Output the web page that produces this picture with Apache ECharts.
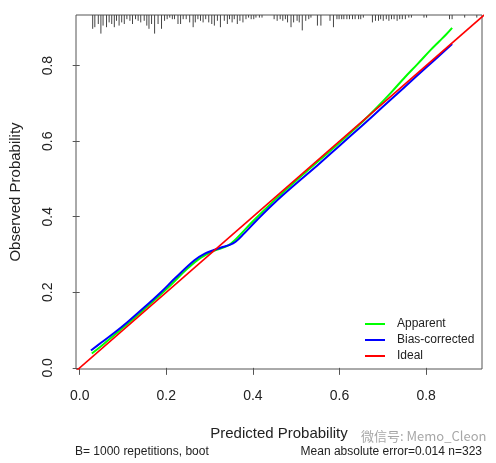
<!DOCTYPE html>
<html><head><meta charset="utf-8">
<script src="https://cdn.jsdelivr.net/npm/echarts@6/dist/echarts.min.js"></script>
<style>html,body{margin:0;padding:0;background:#fff}#c{width:496px;height:463px}</style>
</head><body><div id="c"></div>
<script>
const xTicks = [0, 0.2, 0.4, 0.6, 0.8];
const yTicks = [0, 0.2, 0.4, 0.6, 0.8];
const seriesNames = ['Apparent', 'Bias-corrected', 'Ideal'];

const apparentX = [0.028,0.05,0.1,0.15,0.2,0.25,0.28,0.31,0.34,0.36,0.4,0.45,0.5,0.55,0.6,0.65,0.68,0.72,0.75,0.78,0.81,0.83,0.845,0.86];
const apparentY = [0.038,0.058,0.106,0.156,0.208,0.264,0.292,0.310,0.322,0.340,0.388,0.444,0.496,0.546,0.596,0.648,0.682,0.730,0.768,0.804,0.841,0.864,0.881,0.900];

const biasX = [0.026,0.05,0.08,0.11,0.15,0.19,0.22,0.265,0.29,0.31,0.33,0.345,0.36,0.38,0.41,0.45,0.5,0.55,0.6,0.65,0.7,0.75,0.8,0.86];
const biasY = [0.046,0.067,0.093,0.121,0.161,0.203,0.237,0.285,0.303,0.312,0.320,0.325,0.334,0.356,0.392,0.437,0.488,0.537,0.588,0.639,0.691,0.743,0.795,0.857];

const idealX = [-0.1, 1.1];
const idealY = [-0.1, 1.1];

const rugX = [0.030,0.035,0.043,0.049,0.054,0.062,0.068,0.074,0.080,0.085,
0.091,0.097,0.103,0.109,0.116,0.122,0.129,0.135,0.141,0.149,
0.155,0.160,0.166,0.173,0.181,0.189,0.196,0.202,0.208,0.214,
0.219,0.227,0.233,0.239,0.246,0.254,0.262,0.267,0.273,0.279,
0.285,0.291,0.298,0.305,0.311,0.318,0.325,0.334,0.341,0.346,
0.352,0.357,0.364,0.370,0.377,0.384,0.390,0.396,0.402,0.407,
0.415,0.421,0.449,0.456,0.463,0.469,0.475,0.480,0.488,0.494,
0.502,0.507,0.514,0.522,0.529,0.534,0.549,0.557,0.578,0.586,
0.594,0.599,0.605,0.610,0.617,0.623,0.630,0.636,0.644,0.649,
0.655,0.676,0.683,0.690,0.695,0.701,0.708,0.714,0.720,0.726,
0.733,0.739,0.745,0.752,0.760,0.766,0.795,0.801,0.854,0.860,
0.889,0.917];
const rugN = [8,7,5,11,6,7,4,5,7,3,
6,4,5,2,3,5,2,3,4,3,
6,8,5,11,5,8,3,2,1,2,
2,5,5,2,2,4,7,4,2,3,
4,2,4,5,6,3,7,3,5,2,
4,2,5,3,4,2,1,2,2,1,
1,1,2,3,2,3,2,4,7,4,
3,4,9,3,2,1,6,6,3,7,
2,2,2,2,2,2,2,2,2,2,
1,4,3,3,2,3,2,3,2,2,
3,2,2,2,1,1,1,1,2,2,
1,1];

const footLeft = 'B= 1000 repetitions, boot';
const footRight = 'Mean absolute error=0.014 n=323';
const watermark = '微信号: Memo_Cleon';

const X_MIN = -0.0085, X_MAX = 0.929, Y_MIN = -0.003, Y_MAX = 0.934;
const FONT = '"Liberation Sans", Arial, sans-serif';
const zip = (a, b) => a.map((v, i) => [v, b[i]]);

const chart = echarts.init(document.getElementById('c'), null, {renderer: 'canvas'});
chart.setOption({
  animation: false,
  backgroundColor: '#fff',
  textStyle: {fontFamily: FONT},
  grid: {left: 74, top: 15, width: 408, height: 354, show: true, borderColor: '#555', borderWidth: 1, backgroundColor: 'transparent'},
  xAxis: {
    type: 'value', min: X_MIN, max: X_MAX,
    axisLine: {show: false}, splitLine: {show: false},
    axisTick: {show: true, customValues: xTicks, length: 7, lineStyle: {color: '#555'}},
    axisLabel: {customValues: xTicks, formatter: v => v.toFixed(1), fontSize: 14, color: '#222', margin: 20, fontFamily: FONT},
    name: 'Predicted Probability', nameLocation: 'middle', nameGap: 57,
    nameTextStyle: {fontSize: 15, color: '#222', fontFamily: FONT}
  },
  yAxis: {
    type: 'value', min: Y_MIN, max: Y_MAX,
    axisLine: {show: false}, splitLine: {show: false},
    axisTick: {show: true, customValues: yTicks, length: 7, lineStyle: {color: '#555'}},
    axisLabel: {customValues: yTicks, formatter: v => v.toFixed(1), fontSize: 14, color: '#222', margin: 21, rotate: 90, fontFamily: FONT},
    name: 'Observed Probability', nameLocation: 'middle', nameGap: 53, nameRotate: 90,
    nameTextStyle: {fontSize: 15, color: '#222', fontFamily: FONT}
  },
  legend: {
    orient: 'vertical', left: 365, top: 317, padding: 0, itemGap: 2,
    icon: 'rect', itemWidth: 20, itemHeight: 2,
    data: seriesNames,
    textStyle: {fontSize: 12, color: '#222', lineHeight: 14, padding: [0, 0, 0, 7], fontFamily: FONT}
  },
  series: [
    {name: seriesNames[0], type: 'line', data: zip(apparentX, apparentY), showSymbol: false, smooth: 0.4,
     lineStyle: {color: '#00FF00', width: 2}, itemStyle: {color: '#00FF00'}, z: 2},
    {name: seriesNames[1], type: 'line', data: zip(biasX, biasY), showSymbol: false, smooth: 0.4,
     lineStyle: {color: '#0000FF', width: 2}, itemStyle: {color: '#0000FF'}, z: 3},
    {name: seriesNames[2], type: 'line', data: zip(idealX, idealY), showSymbol: false, clip: true,
     lineStyle: {color: '#FF0000', width: 1.6}, itemStyle: {color: '#FF0000'}, z: 4},
    {name: 'rug', type: 'custom', data: zip(rugX, rugN), clip: false, z: 5,
     renderItem: (params, api) => {
       const p = api.coord([api.value(0), Y_MAX]);
       return {type: 'line', shape: {x1: p[0], y1: p[1], x2: p[0], y2: p[1] + 1 + api.value(1) * 1.6},
               style: {stroke: '#444', lineWidth: 1}};
     }}
  ],
  graphic: [
    {type: 'text', left: 75, top: 446, style: {text: footLeft, font: '12px ' + FONT, fill: '#222'}},
    {type: 'text', right: 14, top: 446, style: {text: footRight, font: '12px ' + FONT, fill: '#222'}},
    {type: 'text', left: 360, top: 429, z: 100, style: {text: watermark, font: '13px "Noto Sans CJK SC", ' + FONT, fill: 'rgba(150,150,150,0.85)', stroke: '#fff', lineWidth: 2}}
  ]
});
</script></body></html>
